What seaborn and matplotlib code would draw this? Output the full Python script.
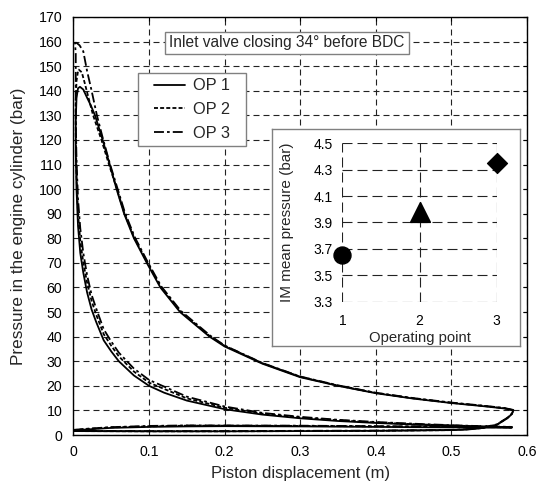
import numpy as np
import pandas as pd
import matplotlib
matplotlib.use("Agg")
import matplotlib.pyplot as plt
from matplotlib.patches import Rectangle
import seaborn as sns

# P-x loops (intake -> compression -> expansion -> blowdown -> exhaust)
op1_x = [0.0, 0.02, 0.05, 0.1, 0.15, 0.2, 0.3, 0.4, 0.5, 0.55, 0.58,
         0.58, 0.55, 0.5, 0.45, 0.4, 0.35, 0.3, 0.25, 0.2, 0.15, 0.12, 0.1, 0.08, 0.06, 0.05,
         0.04, 0.03, 0.024, 0.018, 0.013, 0.009, 0.006, 0.004, 0.003, 0.003, 0.004, 0.006,
         0.0086, 0.013, 0.0175, 0.023, 0.0285, 0.0386, 0.048, 0.057, 0.067, 0.08, 0.097,
         0.115, 0.141, 0.18, 0.2, 0.25, 0.3, 0.35, 0.4, 0.45, 0.5, 0.54, 0.57, 0.582,
         0.58, 0.574, 0.56, 0.538, 0.52, 0.5, 0.4, 0.3, 0.2, 0.1, 0.0]
op1_y = [1.9, 2.3, 2.9, 3.3, 3.5, 3.6, 3.5, 3.3, 3.1, 3.0, 3.0,
         3.1, 3.3, 3.75, 4.25, 4.9, 5.7, 6.8, 8.3, 10.5, 14.0, 17.2, 20.0, 24.2, 30.0, 34.0,
         38.5, 46.0, 51.0, 58.0, 66.0, 74.0, 85.0, 100.0, 115.0, 128.0, 137.0, 141.0,
         141.6, 140.5, 137.5, 134.0, 130.0, 120.0, 110.0, 100.0, 90.0, 80.0, 70.0,
         60.0, 50.0, 40.0, 36.0, 29.0, 23.5, 20.0, 17.0, 14.8, 13.0, 11.8, 10.8, 10.0,
         8.5, 6.8, 4.1, 2.7, 2.2, 2.0, 1.7, 1.6, 1.5, 1.5, 1.6]

op2_x = [0.0, 0.02, 0.05, 0.1, 0.15, 0.2, 0.3, 0.4, 0.5, 0.55, 0.58,
         0.58, 0.55, 0.5, 0.45, 0.4, 0.35, 0.3, 0.25, 0.2, 0.15, 0.1, 0.08, 0.06, 0.05,
         0.04, 0.03, 0.024, 0.018, 0.013, 0.009, 0.006, 0.004, 0.003, 0.003, 0.004, 0.006,
         0.007, 0.011, 0.015, 0.02, 0.026, 0.037, 0.047, 0.057, 0.067, 0.08, 0.097,
         0.115, 0.141, 0.18, 0.2, 0.25, 0.3, 0.35, 0.4, 0.45, 0.5, 0.54, 0.57, 0.582,
         0.58, 0.574, 0.56, 0.538, 0.52, 0.5, 0.4, 0.3, 0.2, 0.1, 0.0]
op2_y = [2.0, 2.5, 3.1, 3.5, 3.8, 3.8, 3.7, 3.5, 3.3, 3.2, 3.1,
         3.2, 3.4, 3.9, 4.4, 5.1, 6.0, 7.1, 8.7, 11.1, 14.9, 21.3, 25.8, 32.0, 36.3,
         41.0, 49.0, 54.5, 62.0, 70.0, 79.0, 90.0, 106.0, 122.0, 136.0, 144.0, 148.0,
         148.6, 147.5, 143.0, 137.0, 130.0, 120.0, 110.0, 100.5, 90.5, 80.5, 70.5,
         60.5, 50.4, 40.3, 36.3, 29.2, 23.7, 20.1, 17.1, 14.9, 13.1, 11.9, 10.9, 10.1,
         8.6, 6.9, 4.2, 2.8, 2.3, 2.0, 1.7, 1.6, 1.5, 1.5, 1.6]

op3_x = [0.0, 0.02, 0.05, 0.1, 0.15, 0.2, 0.3, 0.4, 0.5, 0.55, 0.58,
         0.58, 0.55, 0.5, 0.45, 0.4, 0.35, 0.3, 0.25, 0.2, 0.15, 0.1, 0.08, 0.06, 0.05,
         0.04, 0.03, 0.024, 0.018, 0.013, 0.009, 0.006, 0.004, 0.003, 0.003, 0.003, 0.002,
         0.004, 0.008, 0.013, 0.018, 0.024, 0.031, 0.039, 0.048, 0.058, 0.068, 0.081, 0.098,
         0.116, 0.142, 0.181, 0.2, 0.25, 0.3, 0.35, 0.4, 0.45, 0.5, 0.54, 0.57, 0.582,
         0.58, 0.574, 0.56, 0.538, 0.52, 0.5, 0.4, 0.3, 0.2, 0.1, 0.0]
op3_y = [2.1, 2.6, 3.2, 3.7, 3.9, 3.9, 3.8, 3.6, 3.4, 3.3, 3.2,
         3.3, 3.5, 4.0, 4.6, 5.3, 6.2, 7.4, 9.0, 11.6, 15.6, 22.4, 27.0, 33.5, 38.0,
         43.0, 51.5, 57.0, 65.0, 74.0, 84.0, 96.0, 112.0, 128.0, 145.0, 155.0, 159.5,
         159.5, 158.5, 156.0, 148.0, 140.0, 130.0, 120.5, 110.5, 100.5, 90.5, 80.5, 70.5,
         60.5, 50.5, 40.4, 36.4, 29.3, 23.8, 20.2, 17.2, 15.0, 13.2, 12.0, 11.0, 10.2,
         8.7, 7.0, 4.3, 2.9, 2.4, 2.1, 1.8, 1.7, 1.6, 1.6, 1.7]

op_labels = ["OP 1", "OP 2", "OP 3"]

# inset: IM mean pressure per operating point
op_number = [1, 2, 3]
imep_bar = [3.65, 3.98, 4.35]
imep_markers = ["o", "^", "D"]

x_ticks = [0, 0.1, 0.2, 0.3, 0.4, 0.5, 0.6]
x_tick_labels = ["0", "0.1", "0.2", "0.3", "0.4", "0.5", "0.6"]
y_ticks = list(range(0, 171, 10))
inset_y_ticks = [3.3, 3.5, 3.7, 3.9, 4.1, 4.3, 4.5]
inset_y_labels = ["3.3", "3.5", "3.7", "3.9", "4.1", "4.3", "4.5"]

sns.set_style("white")
plt.rcParams["font.family"] = ["Liberation Sans", "DejaVu Sans"]

fig = plt.figure(figsize=(5.5, 4.94), dpi=100)
ax = fig.add_axes([0.1336, 0.1194, 0.8245, 0.8462])

styles = ["-", (0, (2.2, 1.2)), (0, (5.5, 1.7, 1.5, 1.7))]
for xs, ys, lab, ls in zip([op1_x, op2_x, op3_x], [op1_y, op2_y, op3_y], op_labels, styles):
    sns.lineplot(x=xs, y=ys, sort=False, estimator=None, ax=ax, color="black",
                 linestyle=ls, linewidth=1.3, label=lab)

ax.set_xlim(0, 0.6)
ax.set_ylim(0, 170)
ax.set_xticks(x_ticks, x_tick_labels)
ax.set_yticks(y_ticks)
ax.grid(True, color="#222222", linewidth=0.8, linestyle=(0, (5.4, 3.6)))
ax.tick_params(direction="in", length=3, width=0.8, top=True, right=True,
               labelsize=10.2, colors="black")
ax.tick_params(axis="y", pad=8)
ax.tick_params(axis="x", pad=7)
for sp in ax.spines.values():
    sp.set_color("black")
    sp.set_linewidth(1.0)
ax.set_xlabel("Piston displacement (m)", fontsize=12, labelpad=5)
ax.set_ylabel("Pressure in the engine cylinder (bar)", fontsize=12.3, labelpad=9)

# legend box (wider side padding than the top/bottom one)
ax.add_patch(Rectangle((0.1422, 0.6914), 0.2381, 0.1746, transform=ax.transAxes,
                       facecolor="white", edgecolor="#808080", linewidth=1.0, zorder=4))
leg = ax.legend(loc="center", bbox_to_anchor=(0.2613, 0.7787), borderaxespad=0,
                fontsize=11.8, frameon=False, handlelength=1.9,
                handletextpad=0.5, labelspacing=0.52, borderpad=0.2)
leg.set_zorder(5)

ax.text(0.471, 0.938, "Inlet valve closing 34° before BDC", transform=ax.transAxes,
        ha="center", va="center", fontsize=11.2, zorder=5,
        bbox=dict(boxstyle="square,pad=0.25", fc="white", ec="#808080", lw=1.0))

# white frame behind the inset
frame = fig.add_axes([0.4945, 0.2996, 0.4509, 0.4393])
frame.set_xticks([])
frame.set_yticks([])
frame.set_facecolor("white")
for sp in frame.spines.values():
    sp.set_color("#808080")
    sp.set_linewidth(1.0)

inset = fig.add_axes([0.6224, 0.3893, 0.2807, 0.3206])
inset.set_facecolor("white")
for x, y, m in zip(op_number, imep_bar, imep_markers):
    sns.scatterplot(x=[x], y=[y], marker=m, s={"o": 150, "^": 200, "D": 105}[m],
                    color="black", edgecolor="black", ax=inset, clip_on=False, zorder=5)
inset.set_xlim(1, 3)
inset.set_ylim(3.3, 4.5)
inset.set_xticks(op_number)
inset.set_yticks(inset_y_ticks, inset_y_labels)
inset.grid(True, color="#222222", linewidth=0.8, linestyle=(0, (9, 4.5)))
inset.tick_params(length=0, labelsize=10, colors="black")
inset.tick_params(axis="y", pad=7)
inset.tick_params(axis="x", pad=9)
for sp in inset.spines.values():
    sp.set_visible(False)
inset.set_xlabel("Operating point", fontsize=10.7, labelpad=2)
inset.set_ylabel("IM mean pressure (bar)", fontsize=11, labelpad=14)

fig.savefig("out.png", dpi=100)
